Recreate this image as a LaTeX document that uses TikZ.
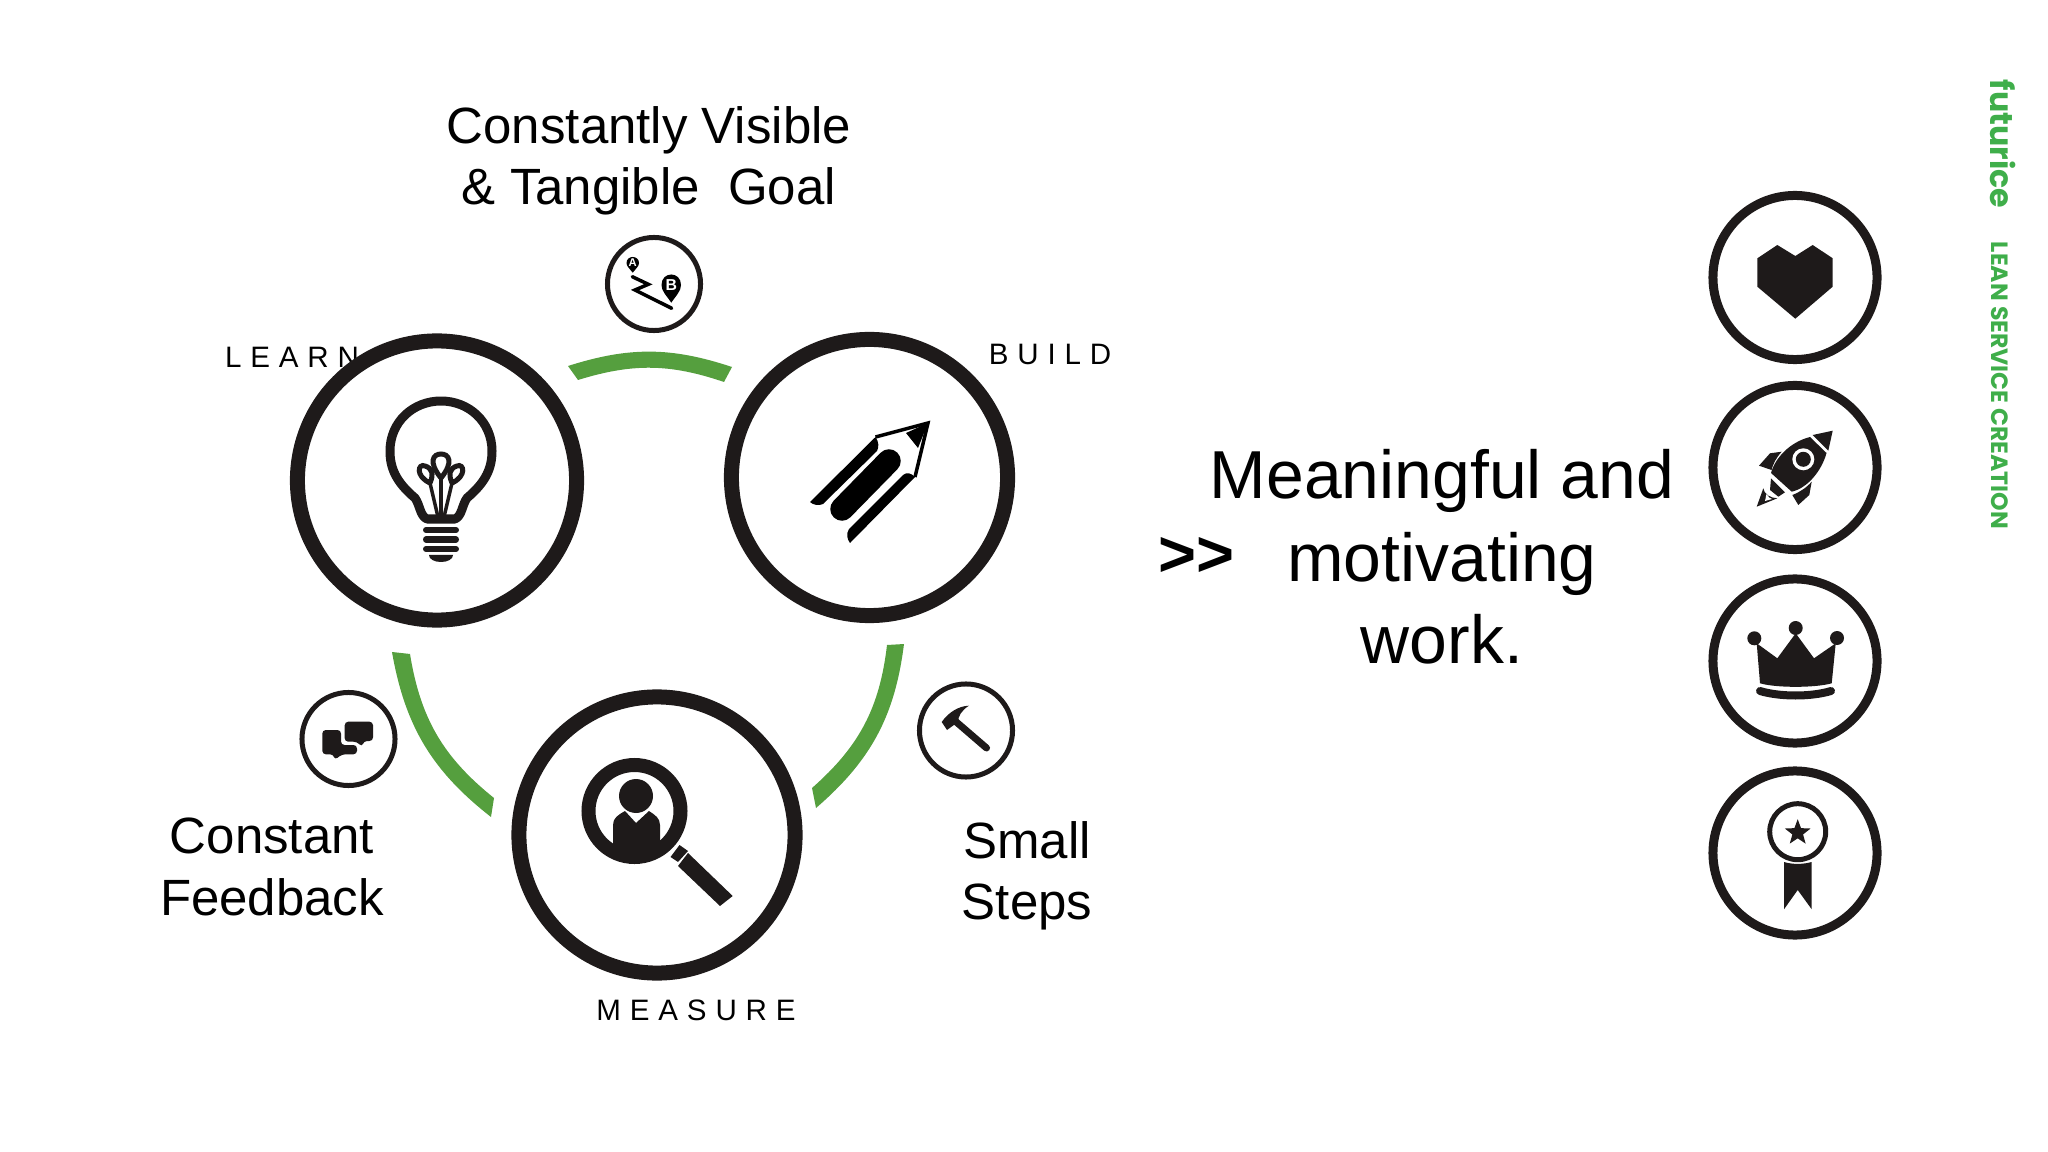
\documentclass[tikz,border=0pt]{standalone}
\usepackage{fontspec}
\setmainfont{Liberation Sans}
\newfontfamily\stagefont[LetterSpace=30]{Liberation Sans}
\newfontfamily\brandfont{Poppins}
\usetikzlibrary{shapes.geometric}
\definecolor{inkblack}{HTML}{1E1A1A}
\definecolor{arcgreen}{HTML}{559F3E}
\definecolor{brandgreen}{HTML}{3FAE4A}
\tikzset{
    bigring/.style={circle,draw=inkblack,line width=0.15cm,minimum size=2.76cm,inner sep=0pt},
    smallring/.style={circle,draw=inkblack,line width=0.05cm,minimum size=0.93cm,inner sep=0pt},
    badgering/.style={circle,draw=inkblack,line width=0.09cm,minimum size=1.64cm,inner sep=0pt},
    stagelabel/.style={font=\stagefont\fontsize{8.4}{10}\selectfont,text=black},
    steplabel/.style={font=\fontsize{14.5}{17.4}\selectfont,align=center,text=black},
}

\begin{document}
\begin{tikzpicture}[x=0.01cm,y=-0.01cm]
                \useasboundingbox (0,0) rectangle (2048,1152);
                
                % Green arcs
                \fill[arcgreen] (568,366) to[bend left=18] (732,367) -- (724,382) to[bend right=18] (578,380) -- cycle;
                \fill[arcgreen] (392,652) to[bend right=21] (491,817) -- (494,798) to[bend left=21] (410,654) -- cycle;
                \fill[arcgreen] (904,644) to[bend left=21] (816,808) -- (812,788) to[bend right=21] (887,645) -- cycle;
                
                % Labels
                \node[stagelabel] (learnlabel) at (292,357) {LEARN};
                \node[stagelabel] (buildlabel) at (1050,354) {BUILD};
                \node[stagelabel] (measurelabel) at (696,1010) {MEASURE};
                
                % Rings
                \node[bigring,minimum size=2.79cm] (learn) at (437,480.5) {};
                \node[bigring] (build) at (869.5,477.5) {};
                \node[bigring] (measure) at (657,835) {};
                \node[smallring] (goal) at (654,284) {};
                \node[smallring] (feedback) at (348.5,739) {};
                \node[smallring] (steps) at (966,730.5) {};
                \node[badgering] (heart) at (1795,277.5) {};
                \node[badgering] (rocket) at (1795,467.5) {};
                \node[badgering] (crown) at (1795,661) {};
                \node[badgering] (medal) at (1795,853) {};
                
                % Texts
                \node[steplabel] (goaltext) at (649,161) {Constantly Visible\\\& Tangible\ \ Goal};
                \node[steplabel] (feedbacktext) at (272,867) {Constant\\Feedback};
                \node[steplabel] (stepstext) at (1027,876) {Small\\Steps};
                \node[font=\fontsize{19.3}{23.4}\selectfont,align=center] (worktext) at (1442,557) {Meaningful and\\motivating\\work.};
                \node[font=\fontsize{18.5}{23.4}\selectfont\bfseries,anchor=base] (arrows) at (1196,577) {{>}{>}};
                
                % Bulb
                \draw[inkblack,line width=0.09cm,line join=round] (427,519) .. controls (420,516) and (420,505) .. (415,498) .. controls (396,482) and (390,468) .. (390,451) .. controls (390,422) and (413,401) .. (441,401) .. controls (469,401) and (492,422) .. (492,451) .. controls (492,468) and (486,482) .. (467,498) .. controls (462,505) and (462,516) .. (455,519) -- cycle;
                \draw[inkblack,line width=0.05cm] (430,483) .. controls (415,476) and (418,463) .. (425,466) .. controls (432,468) and (434,474) .. (430,483);
                \draw[inkblack,line width=0.05cm] (441,478) .. controls (428,462) and (433,454) .. (441,454) .. controls (449,454) and (454,462) .. (441,478);
                \draw[inkblack,line width=0.05cm] (452,483) .. controls (467,476) and (464,463) .. (457,466) .. controls (450,468) and (448,474) .. (452,483);
                \draw[inkblack,line width=0.035cm] (430,483) -- (438,517);
                \draw[inkblack,line width=0.035cm] (441,478) -- (441,517);
                \draw[inkblack,line width=0.035cm] (452,483) -- (444,517);
                \draw[inkblack,line width=0.06cm,line cap=round] (426,530) -- (456,530);
                \draw[inkblack,line width=0.06cm,line cap=round] (426,539.5) -- (456,539.5);
                \draw[inkblack,line width=0.06cm,line cap=round] (426,549) -- (456,549);
                \fill[inkblack] (429,555) -- (453,555) .. controls (453,559) and (448,562) .. (441,562) .. controls (434,562) and (429,559) .. (429,555) -- cycle;
                
                % Pencil
                \fill[black] (928,423) -- (906,433) -- (918,448) -- cycle;
                \draw[black,line width=0.035cm] (875.5,437) -- (928,423) -- (915,477);
                \fill[black] (875.5,437) .. controls (879,442) and (879,447) .. (877,451) -- (823,504) .. controls (819,506) and (813,505) .. (810,502) -- cycle;
                \draw[black,line width=0.235cm,line cap=round] (889,461) -- (842,509);
                \fill[black] (915,477) .. controls (911,473) and (907,472) .. (903,475) -- (849,529) .. controls (846,534) and (847,539) .. (850,543) -- cycle;
                
                % Magnifier
                \draw[inkblack,line width=0.14cm] (634.5,811) circle (46);
                \fill[inkblack] (636,796) circle (17);
                \fill[inkblack] (613,855) -- (613,825) .. controls (613,818) and (618,815) .. (625,811) -- (636,823) -- (649,811) .. controls (655,815) and (660,818) .. (660,825) -- (660,850) -- cycle;
                \fill[inkblack] (679.5,845) -- (688,851) -- (678,862) -- (670.5,857) -- cycle;
                \fill[inkblack] (688,853) -- (732.7,896) -- (720,906) -- (678,866) -- cycle;
                
                % Route
                \fill[black] (632.7,272.7) .. controls (629,268) and (626.5,266) .. (626.5,263) .. controls (626.5,255) and (639,255) .. (639,263) .. controls (639,266) and (636.5,268) .. (632.7,272.7) -- cycle;
                \fill[black] (671.3,302.7) .. controls (666,295) and (661.5,291) .. (661.5,285) .. controls (661.5,271) and (681,271) .. (681,285) .. controls (681,291) and (676.5,295) .. (671.3,302.7) -- cycle;
                \node[text=white,font=\fontsize{3.2}{4}\selectfont\bfseries,inner sep=0pt] (pina) at (632.7,263) {A};
                \node[text=white,font=\fontsize{4.5}{5}\selectfont\bfseries,inner sep=0pt] (pinb) at (671.3,285) {B};
                \draw[black,line width=0.035cm,line join=miter,line cap=round] (632.3,276.7) -- (648.3,284.3) -- (635,290) -- (671.7,308.3);
                
                % Chat bubbles
                \fill[inkblack,rounded corners=1pt] (344.7,721.7) -- (373,721.7) -- (373,741) -- (363.6,741) -- (362,747) -- (357,741.7) -- (344.7,741.7) -- cycle;
                \fill[inkblack,rounded corners=1pt] (322.3,730) -- (341,730) -- (341,745) -- (357,745) -- (357,754.3) -- (342,754.3) -- (334.7,760) -- (333.7,754.3) -- (322.3,754.3) -- cycle;
                
                % Hammer
                \draw[inkblack,line width=0.07cm,line cap=round] (954,720) -- (986.5,748);
                \fill[inkblack] (941.7,722) .. controls (948,713) and (958,706) .. (969,705.7) .. controls (962,710) and (958,716) .. (958,722) -- (947,730) -- cycle;
                
                % Heart
                \fill[inkblack] (1757.3,258.3) -- (1777.3,245) -- (1795.3,256) -- (1812.7,245) -- (1832.7,258.3) -- (1832.7,286.7) -- (1795.3,318.7) -- (1757.3,286.7) -- cycle;
                
                % Rocket
                \fill[inkblack] (1812.7,435) -- (1832.7,430.7) -- (1828.3,450.7) -- cycle;
                \fill[inkblack] (1810,437) .. controls (1790,442) and (1775,458) .. (1771,473) -- (1791.7,491.7) .. controls (1808,488) and (1822,470) .. (1826.5,453) -- cycle;
                \fill[white] (1803.3,459.3) circle (11);
                \fill[inkblack] (1803.3,459.3) circle (7.5);
                \fill[inkblack] (1759,465.7) -- (1770,453.3) -- (1781.7,451.7) .. controls (1776,458) and (1773,464) .. (1771.5,470) -- cycle;
                \fill[inkblack] (1792.3,495) .. controls (1800,492) and (1806,488) .. (1811.7,481.7) -- (1809.3,495) -- (1798.3,505) -- cycle;
                \fill[inkblack] (1771,478.3) -- (1785,492.3) -- (1778.3,496.7) -- (1770,490) -- cycle;
                \fill[inkblack] (1756.7,506.7) -- (1763.3,488.3) .. controls (1764,494) and (1770,498) .. (1777.3,498.3) -- cycle;
                \fill[white] (1765,501) .. controls (1766,497) and (1766,495) .. (1766.5,494) .. controls (1768,497) and (1770,498.5) .. (1772,499) -- cycle;
                
                % Crown
                \fill[inkblack] (1754.3,638.3) circle (7);
                \fill[inkblack] (1795.7,628) circle (7);
                \fill[inkblack] (1837,638) circle (7);
                \fill[inkblack] (1756.7,643.3) -- (1777.3,658.3) -- (1795.7,633.3) -- (1814,658.3) -- (1835.7,643.3) -- (1831.7,683.3) .. controls (1815,688) and (1776,688) .. (1760,683.3) -- cycle;
                \draw[inkblack,line width=0.08cm,line cap=round] (1760,691) .. controls (1780,697) and (1811,697) .. (1831,691);
                
                % Medal
                \draw[inkblack,line width=0.05cm] (1797.7,831.7) circle (28);
                \node[star,star points=5,star point ratio=2.4,fill=inkblack,inner sep=0pt,minimum size=0.27cm] (medalstar) at (1797.7,832.7) {};
                \fill[inkblack] (1784,862) .. controls (1792,864.5) and (1803,864.5) .. (1811.7,862) -- (1811.7,909.3) -- (1797.7,890) -- (1784,909.3) -- cycle;
                
                % Brand
                \node[rotate=-90,text=brandgreen,font=\brandfont\fontsize{9}{13}\selectfont\bfseries] (brandname) at (2003,144) {futurice};
                \node[rotate=-90,text=brandgreen,font=\brandfont\fontsize{6.7}{9}\selectfont\bfseries] (brandline) at (2000,385.5) {LEAN SERVICE CREATION};
            \end{tikzpicture}
\end{document}
